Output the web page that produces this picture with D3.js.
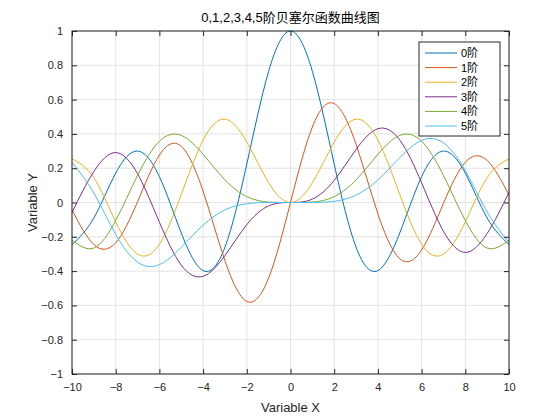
<!DOCTYPE html>
<html>
<head>
<meta charset="utf-8">
<script src="https://cdn.jsdelivr.net/npm/d3@7"></script>
<style>
body { margin: 0; background: #fff; }
text { font-family: "Liberation Sans", "Noto Sans CJK SC", sans-serif; }
</style>
</head>
<body>
<div id="chart"></div>
<script>
// sample x positions
var xs = [-10,-9,-8,-7,-6,-5,-4,-3,-2,-1,0,1,2,3,4,5,6,7,8,9,10];

// values read at each x
var j0 = [-0.2459,-0.0903,0.1717,0.3001,0.1506,-0.1776,-0.3971,-0.2601,0.2239,0.7652,1,
          0.7652,0.2239,-0.2601,-0.3971,-0.1776,0.1506,0.3001,0.1717,-0.0903,-0.2459];
var j1 = [-0.0435,-0.2453,-0.2346,0.0047,0.2767,0.3276,0.0660,-0.3391,-0.5767,-0.4401,0,
          0.4401,0.5767,0.3391,-0.0660,-0.3276,-0.2767,-0.0047,0.2346,0.2453,0.0435];
var j2 = [0.2546,0.1448,-0.1130,-0.3014,-0.2429,0.0466,0.3641,0.4861,0.3528,0.1149,0,
          0.1149,0.3528,0.4861,0.3641,0.0466,-0.2429,-0.3014,-0.1130,0.1448,0.2546];
var j3 = [-0.0584,0.1809,0.2911,0.1676,-0.1148,-0.3648,-0.4302,-0.3091,-0.1289,-0.0196,0,
          0.0196,0.1289,0.3091,0.4302,0.3648,0.1148,-0.1676,-0.2911,-0.1809,0.0584];
var j4 = [-0.2196,-0.2655,-0.1054,0.1578,0.3576,0.3912,0.2811,0.1320,0.0340,0.0025,0,
          0.0025,0.0340,0.1320,0.2811,0.3912,0.3576,0.1578,-0.1054,-0.2655,-0.2196];
var j5 = [0.2341,0.0550,-0.1858,-0.3479,-0.3621,-0.2611,-0.1321,-0.0430,-0.0070,-0.0002,0,
          0.0002,0.0070,0.0430,0.1321,0.2611,0.3621,0.3479,0.1858,-0.0550,-0.2341];

var seriesNames = ["0阶","1阶","2阶","3阶","4阶","5阶"];
var seriesValues = [j0, j1, j2, j3, j4, j5];
var colors = ["#0072BD","#D95319","#EDB120","#7E2F8E","#77AC30","#4DBEEE"];
var xTicks = [-10,-8,-6,-4,-2,0,2,4,6,8,10];
var yTicks = [-1,-0.8,-0.6,-0.4,-0.2,0,0.2,0.4,0.6,0.8,1];

var svgWidth = 560, svgHeight = 420;
var margin = {top: 31, right: 51, bottom: 46, left: 72};
var width = svgWidth - margin.left - margin.right;
var height = svgHeight - margin.top - margin.bottom;

var svg = d3.select("#chart").append("svg")
    .attr("width", svgWidth).attr("height", svgHeight);
var g = svg.append("g").attr("transform", `translate(${margin.left},${margin.top})`);

var x = d3.scaleLinear().domain([-10, 10]).range([0, width]);
var y = d3.scaleLinear().domain([-1, 1]).range([height, 0]);

//grid
g.selectAll(".gx").data(xTicks).enter().append("line")
    .attr("x1", d => x(d)).attr("x2", d => x(d)).attr("y1", 0).attr("y2", height)
    .attr("stroke", "#e3e3e3");
g.selectAll(".gy").data(yTicks).enter().append("line")
    .attr("y1", d => y(d)).attr("y2", d => y(d)).attr("x1", 0).attr("x2", width)
    .attr("stroke", "#e3e3e3");

//curves
var line = d3.line().x((d, i) => x(xs[i])).y(d => y(d)).curve(d3.curveNatural);
seriesValues.forEach(function(vals, k) {
    g.append("path").datum(vals)
        .attr("d", line).attr("fill", "none")
        .attr("stroke", colors[k]).attr("stroke-width", 1);
});

//axes, ticks inside
function styleAxis(sel) {
    sel.select(".domain").remove();
    sel.selectAll("line").attr("stroke", "#262626");
    sel.selectAll("text").attr("fill", "#262626").attr("font-size", 11);
}
g.append("g").attr("transform", `translate(0,${height})`)
    .call(d3.axisBottom(x).tickValues(xTicks).tickSizeInner(-5).tickSizeOuter(0).tickPadding(9))
    .call(styleAxis);
g.append("g").attr("transform", `translate(0,0)`)
    .call(d3.axisTop(x).tickValues(xTicks).tickSizeInner(-5).tickSizeOuter(0).tickFormat(""))
    .call(styleAxis);
g.append("g")
    .call(d3.axisLeft(y).tickValues(yTicks).tickSizeInner(-5).tickSizeOuter(0).tickPadding(9).tickFormat(d3.format("")))
    .call(styleAxis);
g.append("g").attr("transform", `translate(${width},0)`)
    .call(d3.axisRight(y).tickValues(yTicks).tickSizeInner(-5).tickSizeOuter(0).tickFormat(""))
    .call(styleAxis);
g.append("rect").attr("width", width).attr("height", height)
    .attr("fill", "none").attr("stroke", "#262626");

//labels
svg.append("text").attr("x", margin.left + width / 2).attr("y", 22)
    .attr("text-anchor", "middle").attr("font-size", 13).attr("fill", "#000")
    .text("0,1,2,3,4,5阶贝塞尔函数曲线图");
svg.append("text").attr("x", margin.left + width / 2).attr("y", 412)
    .attr("text-anchor", "middle").attr("font-size", 13).attr("fill", "#262626")
    .text("Variable X");
svg.append("text").attr("transform", `translate(37,${margin.top + height / 2}) rotate(-90)`)
    .attr("text-anchor", "middle").attr("font-size", 13).attr("fill", "#262626")
    .text("Variable Y");

//legend
var lg = svg.append("g").attr("transform", "translate(419,42)");
lg.append("rect").attr("width", 81).attr("height", 94)
    .attr("fill", "#fff").attr("stroke", "#262626");
seriesNames.forEach(function(name, k) {
    var yy = 11 + k * 14.6;
    lg.append("line").attr("x1", 6).attr("x2", 38).attr("y1", yy).attr("y2", yy)
        .attr("stroke", colors[k]);
    lg.append("text").attr("x", 42).attr("y", yy + 4).attr("font-size", 11)
        .attr("fill", "#000").text(name);
});
</script>
</body>
</html>
